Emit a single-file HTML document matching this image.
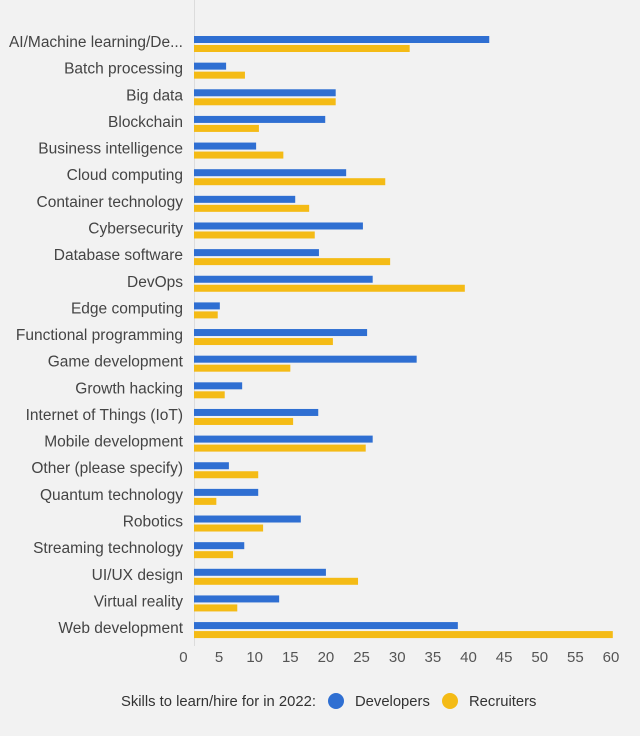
<!DOCTYPE html>
<html><head><meta charset="utf-8"><style>
body{margin:0;background:#f2f2f2;font-family:"Liberation Sans",sans-serif;}
#c{position:relative;width:640px;height:731px;}
</style></head><body>
<div id="c">
<svg id="s" width="640" height="731"></svg>
</div>
<script>
const categories=["AI/Machine learning/De...","Batch processing","Big data","Blockchain","Business intelligence","Cloud computing","Container technology","Cybersecurity","Database software","DevOps","Edge computing","Functional programming","Game development","Growth hacking","Internet of Things (IoT)","Mobile development","Other (please specify)","Quantum technology","Robotics","Streaming technology","UI/UX design","Virtual reality","Web development"];
const developers=[42.3,4.6,20.3,18.8,8.9,21.8,14.5,24.2,17.9,25.6,3.7,24.8,31.9,6.9,17.8,25.6,5.0,9.2,15.3,7.2,18.9,12.2,37.8];
const recruiters=[30.9,7.3,20.3,9.3,12.8,27.4,16.5,17.3,28.1,38.8,3.4,19.9,13.8,4.4,14.2,24.6,9.2,3.2,9.9,5.6,23.5,6.2,60];
const ticks=[0,5,10,15,20,25,30,35,40,45,50,55,60];
const NS="http://www.w3.org/2000/svg",svg=document.getElementById('s');
const x=v=>194+v*6.98;
const tx=v=>183.4+v*7.127;
const rowC=i=>44+i*26.64;
function mk(t,a,txt){const e=document.createElementNS(NS,t);for(const k in a)e.setAttribute(k,a[k]);if(txt!=null)e.textContent=txt;svg.appendChild(e);return e;}
const ax=mk('line',{x1:194.5,y1:0,x2:194.5,y2:646,stroke:'#dcdcdc','stroke-width':1});


categories.forEach((c,i)=>{
 const cy=rowC(i);
 const l=mk('text',{x:183,y:cy+3,'text-anchor':'end','font-size':15.5,fill:'#444'},c);
 
 
 const b=mk('rect',{x:194,y:cy-8,width:x(developers[i])-194,height:7,fill:'#2f6fd2'});
 
 
 const r=mk('rect',{x:194,y:cy+1,width:x(recruiters[i])-194,height:7,fill:'#f4bb16'});
 
 
});
ticks.forEach(t=>{
 const e=mk('text',{x:tx(t),y:662,'text-anchor':'middle','font-size':15,fill:'#555'},String(t));
 
 
});
const lt=mk('text',{x:121,y:706,'font-size':14.8,fill:'#333'},'Skills to learn/hire for in 2022:');


const c1=mk('circle',{cx:336,cy:701,r:8,fill:'#2f6fd2'});


const t1=mk('text',{x:355,y:706,'font-size':14.8,fill:'#333'},'Developers');


const c2=mk('circle',{cx:450,cy:701,r:8,fill:'#f4bb16'});


const t2=mk('text',{x:469,y:706,'font-size':14.8,fill:'#333'},'Recruiters');


</script>
</body></html>
